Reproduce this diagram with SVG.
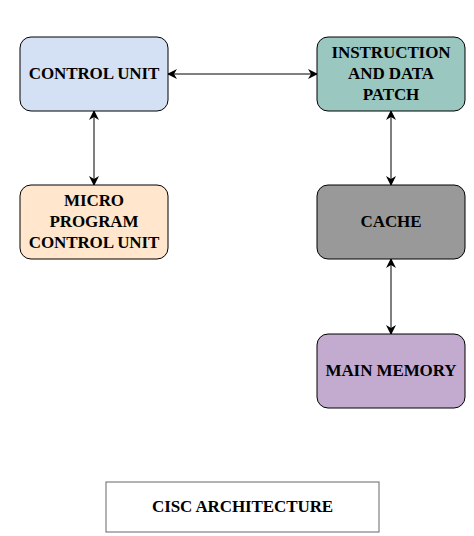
<svg xmlns="http://www.w3.org/2000/svg" width="474" height="536" viewBox="0 0 474 536">
<style>
.n{stroke:#000;stroke-width:1}
.t{font-family:"Liberation Serif","Times New Roman",serif;font-weight:bold;font-size:17px;fill:#000;text-anchor:middle;letter-spacing:-0.1px}
.c{stroke:#000;stroke-width:1;fill:none;marker-start:url(#a);marker-end:url(#a)}
</style>
<defs>
<marker id="a" viewBox="0 0 10 10" refX="9" refY="5" markerWidth="10" markerHeight="10" markerUnits="userSpaceOnUse" orient="auto-start-reverse">
<path d="M0,0 L10,5 L0,10 L3,5 Z" fill="#000"/>
</marker>
</defs>
<rect width="474" height="536" fill="#fff"/>
<g id="connectors">
<line class="c" x1="168" y1="74" x2="317" y2="74"/>
<line class="c" x1="94" y1="111" x2="94" y2="185"/>
<line class="c" x1="391" y1="111" x2="391" y2="185"/>
<line class="c" x1="391" y1="259" x2="391" y2="334"/>
</g>
<g id="control-unit">
<rect class="n" x="20" y="37" width="148" height="74" rx="11" fill="#d4e1f5"/>
<text class="t" x="94" y="79">CONTROL UNIT</text>
</g>
<g id="instruction-data-patch">
<rect class="n" x="317" y="37" width="148" height="74" rx="11" fill="#9ac7bf"/>
<text class="t" x="391" y="58">INSTRUCTION</text>
<text class="t" x="391" y="79">AND DATA</text>
<text class="t" x="391" y="100">PATCH</text>
</g>
<g id="micro-program">
<rect class="n" x="20" y="185" width="148" height="74" rx="11" fill="#ffe6cc"/>
<text class="t" x="94" y="206">MICRO</text>
<text class="t" x="94" y="227">PROGRAM</text>
<text class="t" x="94" y="248">CONTROL UNIT</text>
</g>
<g id="cache">
<rect class="n" x="317" y="185" width="148" height="74" rx="11" fill="#999999"/>
<text class="t" x="391" y="227">CACHE</text>
</g>
<g id="main-memory">
<rect class="n" x="317" y="334" width="148" height="74" rx="11" fill="#c3abd0"/>
<text class="t" x="391" y="376">MAIN MEMORY</text>
</g>
<g id="title">
<rect x="106" y="482" width="273" height="50" fill="#fff" stroke="#666" stroke-width="1"/>
<text class="t" x="242.5" y="512">CISC ARCHITECTURE</text>
</g>
</svg>
